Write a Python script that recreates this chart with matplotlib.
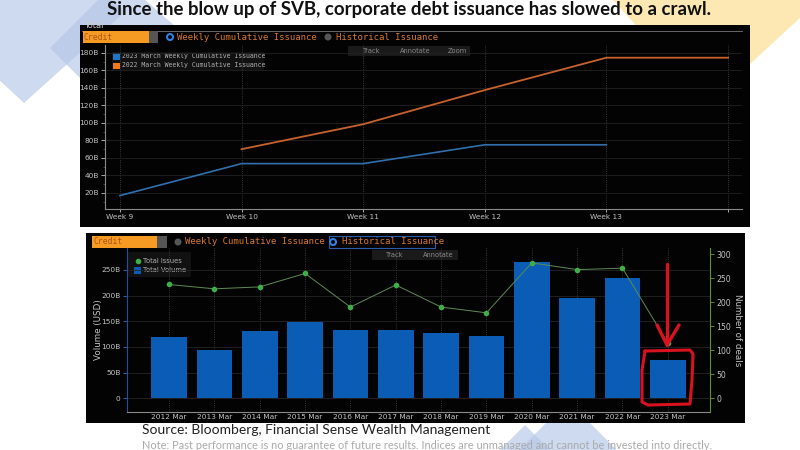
import numpy as np
import matplotlib
matplotlib.use("Agg")
import matplotlib.pyplot as plt
from matplotlib.patches import Polygon, Rectangle, Circle

# ---- data ----
weeks = [9, 10, 11, 12, 13, 14]
week_labels = ["Week 9", "Week 10", "Week 11", "Week 12", "Week 13", ""]
issuance_2023 = [17, 53.5, 53.5, 75, 75]
weeks_2023 = [9, 10, 11, 12, 13]
issuance_2022 = [70, 98.5, 137.5, 174.5, 174.5]
weeks_2022 = [10, 11, 12, 13, 14]
top_yticks = [20, 40, 60, 80, 100, 120, 140, 160, 180]

years = ["2012 Mar", "2013 Mar", "2014 Mar", "2015 Mar", "2016 Mar", "2017 Mar",
         "2018 Mar", "2019 Mar", "2020 Mar", "2021 Mar", "2022 Mar", "2023 Mar"]
volume = [120, 95, 131, 148, 133, 133, 128, 121, 265, 196, 235, 75]
deals = [237, 228, 232, 260, 190, 236, 190, 178, 282, 268, 271, 115]
vol_ticks = [0, 50, 100, 150, 200, 250]
deal_ticks = [0, 50, 100, 150, 200, 250, 300]

W, H = 800, 450
GREY = "#c4c4c4"
ORANGE_TXT = "#d9782f"
MONO = "DejaVu Sans Mono"
SANS = "DejaVu Sans"
BODY = "Lato"

fig = plt.figure(figsize=(8, 4.5), dpi=100, facecolor="white")


def px_axes(l, t, r, b, **kw):
    return fig.add_axes([l / W, 1 - b / H, (r - l) / W, (b - t) / H], **kw)


# ---- page background ----
bg = px_axes(0, 0, W, H, zorder=0)
bg.set_xlim(0, W); bg.set_ylim(H, 0); bg.axis("off")
LB = "#b4c7e7"
for pts in [[(-60, -20), (93, -20), (125, 12), (24, 103), (-60, 25)],
            [(50, 48), (120, -22), (200, 48), (120, 118)],
            [(525, 425), (560, 460), (490, 460)],
            [(568, 401), (630, 463), (506, 463)]]:
    bg.add_patch(Polygon(pts, closed=True, fc=LB, ec="none", alpha=0.65))
bg.add_patch(Polygon([(613, 0), (800, 0), (800, 18), (700, 110), (640, 30)],
                     closed=True, fc="#fde8b4", ec="none"))

bg.text(107, 9, "Since the blow up of SVB, corporate debt issuance has slowed to a crawl.",
        family=BODY, weight="bold", fontsize=13.4, color="#111111", va="center", ha="left")
bg.text(142, 430, "Source: Bloomberg, Financial Sense Wealth Management",
        family=BODY, fontsize=10.03, color="#222222", va="center", ha="left")
bg.text(142, 445.5, "Note: Past performance is no guarantee of future results. Indices are unmanaged and cannot be invested into directly.",
        family=BODY, fontsize=7.9, color="#a9a9a9", va="center", ha="left")

# ---- black panels ----
bg.add_patch(Rectangle((80, 25), 670, 202, fc="#030303", ec="none", zorder=3))
bg.add_patch(Rectangle((86, 233), 659, 190, fc="#030303", ec="none", zorder=3))
bg.plot([82, 742], [30.5, 30.5], color="#777777", lw=0.6, zorder=4)
bg.text(84, 25, "Total", family=SANS, fontsize=6, color="#cccccc", va="center", zorder=4,
        clip_path=Rectangle((80, 25), 670, 202, transform=bg.transData), clip_on=True)


def header(y, box_l, box_r, drop_r):
    bg.add_patch(Rectangle((box_l, y - 6), box_r - box_l, 12, fc="#f59a23", ec="none", zorder=4))
    bg.add_patch(Rectangle((box_r, y - 6), drop_r - box_r, 12, fc="#555555", ec="none", zorder=4))
    bg.text(box_l + 1, y, "Credit", family=MONO, fontsize=5.8, color="#a8561a", va="center", zorder=5)


def radio(x, y, active):
    if active:
        bg.add_patch(Circle((x, y), 3, fc="#05050a", ec="#2f7fe0", lw=1.5, zorder=5))
    else:
        bg.add_patch(Circle((x, y), 3.5, fc="#555555", ec="none", zorder=5))


def htext(x, y, s):
    bg.text(x, y, s, family=MONO, fontsize=6.5, color=ORANGE_TXT, va="center", zorder=5)


def tool(x, y, s):
    bg.text(x, y, s, family=SANS, fontsize=4.8, color="#8a8a8a", va="center", zorder=5)


header(37, 83, 149, 158)
radio(170, 37, True); htext(177, 37, "Weekly Cumulative Issuance")
radio(328, 37, False); htext(336, 37, "Historical Issuance")
bg.add_patch(Rectangle((348, 46), 122, 10, fc="#1a1a1a", ec="none", zorder=4))
tool(363, 51, "Track"); tool(400, 51, "Annotate"); tool(448, 51, "Zoom")

header(242, 92, 157, 167)
radio(178, 242, False); htext(185, 242, "Weekly Cumulative Issuance")
bg.add_patch(Rectangle((329, 236), 106, 12, fc="none", ec="#2a5cb0", lw=0.8, zorder=5))
radio(333, 242, True); htext(342, 242, "Historical Issuance")
bg.add_patch(Rectangle((372, 250), 86, 10, fc="#1a1a1a", ec="none", zorder=4))
tool(386, 255, "Track"); tool(423, 255, "Annotate")

# ---- top chart ----
ax1 = px_axes(105, 45, 742, 209.5, zorder=5)
ax1.patch.set_alpha(0)
ax1.set_xlim(8.877, 14.115); ax1.set_ylim(1.1, 189)
ax1.plot(weeks_2023, issuance_2023, color="#2f6fae", lw=1.2, label="2023 March Weekly Cumulative Issuance")
ax1.plot(weeks_2022, issuance_2022, color="#c8622c", lw=1.3, label="2022 March Weekly Cumulative Issuance")
ax1.set_xticks(weeks); ax1.set_xticklabels(week_labels)
ax1.set_yticks(top_yticks); ax1.set_yticklabels([f"{v}B" for v in top_yticks])
ax1.set_yticks(np.arange(10, 190, 10), minor=True)
ax1.grid(axis="y", color="#222222", lw=0.6)
ax1.grid(axis="x", color="#4a4a4a", lw=0.6, ls=":")
ax1.tick_params(axis="both", which="major", colors=GREY, labelsize=5.3, length=3, width=0.6, pad=1.5)
ax1.tick_params(axis="y", which="minor", colors="#777777", length=1.5, width=0.4)
ax1.tick_params(axis="x", length=2, pad=1)
for s in ("top", "right"):
    ax1.spines[s].set_visible(False)
for s in ("left", "bottom"):
    ax1.spines[s].set_color("#8a8a8a"); ax1.spines[s].set_linewidth(0.8)
bg.add_patch(Rectangle((112, 52), 152, 18, fc="#111111", ec="none", zorder=4))
for y, c, s in [(56, "#1f77c4", "2023 March Weekly Cumulative Issuance"),
                (65.5, "#ee7a1c", "2022 March Weekly Cumulative Issuance")]:
    bg.add_patch(Rectangle((113, y - 3), 7, 6.5, fc=c, ec="none", zorder=5))
    bg.text(122, y, s, family=MONO, fontsize=4.7, color="#b0b0b0", va="center", zorder=5)

# ---- bottom chart ----
ax2 = px_axes(126.7, 248, 710, 411.7, zorder=5)
ax2.patch.set_alpha(0)
x = np.arange(len(years))
ax2.set_xlim(-0.933, 11.93); ax2.set_ylim(-26, 292.6)
ax2.bar(x, volume, width=0.785, color="#0b5cb5", zorder=3)
ax2.set_xticks(x); ax2.set_xticklabels(years)
ax2.set_yticks(vol_ticks); ax2.set_yticklabels(["0"] + [f"{v}B" for v in vol_ticks[1:]])
ax2.grid(axis="y", color="#242424", lw=0.6, zorder=0)
ax2.grid(axis="x", color="#4a4a4a", lw=0.6, ls=":", zorder=0)
ax2.tick_params(axis="both", colors=GREY, labelsize=5.3, length=3, width=0.6, pad=1.5)
ax2.tick_params(axis="y", color="#2a6fd0")
ax2.tick_params(axis="x", length=0, pad=1.5)
ax2.set_ylabel("Volume (USD)", color=GREY, fontsize=6.3, labelpad=-1)
ax2.spines["top"].set_visible(False); ax2.spines["right"].set_visible(False)
ax2.spines["left"].set_color("#1f4f9e"); ax2.spines["bottom"].set_color("#8a8a8a")
for s in ("left", "bottom"):
    ax2.spines[s].set_linewidth(0.8)

ax3 = ax2.twinx()
ax3.patch.set_alpha(0)
ax3.set_ylim(-27.9, 313)
ax3.plot(x, deals, color="#5f8a55", lw=0.7, marker="o", ms=3,
         mfc="#3fae49", mec="#3fae49", zorder=4)
ax3.set_yticks(deal_ticks)
ax3.tick_params(axis="y", colors=GREY, labelsize=5.6, length=3, width=0.6, pad=1.5, color="#6f9a2a")
ax3.set_ylabel("Number of deals", color=GREY, fontsize=6.3, rotation=270, labelpad=8)
for s in ("top", "left", "bottom"):
    ax3.spines[s].set_visible(False)
ax3.spines["right"].set_color("#5f8f2a"); ax3.spines["right"].set_linewidth(0.8)

bg.add_patch(Rectangle((128, 252), 63, 25, fc="#111111", ec="none", zorder=4))
bg.plot([138], [261], "o", ms=3, color="#3fae49", zorder=5)
bg.add_patch(Rectangle((134, 267), 7, 6.5, fc="#0b5cb5", ec="none", zorder=5))
bg.text(143, 261, "Total Issues", family=SANS, fontsize=4.9, color="#b0b0b0", va="center", zorder=5)
bg.text(143, 270, "Total Volume", family=SANS, fontsize=4.9, color="#b0b0b0", va="center", zorder=5)

# ---- hand-drawn red annotation ----
ov = px_axes(0, 0, W, H, zorder=20)
ov.set_xlim(0, W); ov.set_ylim(H, 0); ov.axis("off"); ov.patch.set_alpha(0)
RED = "#d8121e"
ov.plot([645, 690, 693, 692, 690, 648, 642, 642, 645],
        [351, 350, 354, 380, 404, 405, 402, 370, 351], color=RED, lw=2.2,
        solid_capstyle="round", solid_joinstyle="round")
ov.plot([667, 667], [264, 345], color=RED, lw=2.4, solid_capstyle="round")
ov.plot([657, 667, 679], [325, 345, 325], color=RED, lw=2.4, solid_capstyle="round", solid_joinstyle="round")

fig.savefig("out.png", dpi=100)
